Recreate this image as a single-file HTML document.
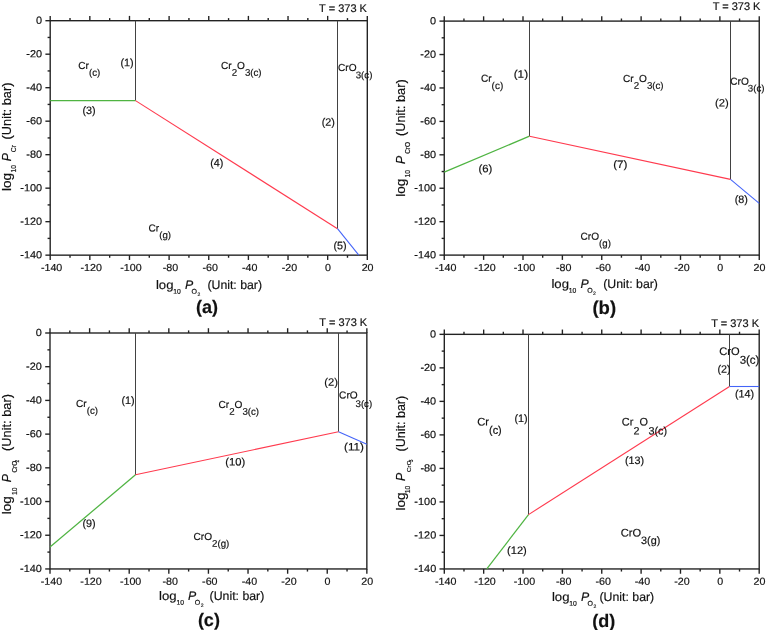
<!DOCTYPE html>
<html lang="en"><head><meta charset="utf-8"><title>Cr-O volatility diagrams, T = 373 K</title>
<style>html,body{margin:0;padding:0;background:#fff}svg{display:block}text{font-family:'Liberation Sans', sans-serif;fill:#111;stroke:#111;stroke-width:0.18px}</style>
</head><body>
<svg width="767" height="630" viewBox="0 0 767 630">
<rect width="767" height="630" fill="#fff"/>
<rect x="50.20" y="20.70" width="317.10" height="234.45" fill="none" stroke="#222" stroke-width="1.38"/>
<line x1="50.20" y1="20.70" x2="50.20" y2="15.90" stroke="#222" stroke-width="1.38"/>
<line x1="50.20" y1="255.15" x2="50.20" y2="259.95" stroke="#222" stroke-width="1.38"/>
<line x1="70.02" y1="20.70" x2="70.02" y2="18.10" stroke="#222" stroke-width="1.38"/>
<line x1="70.02" y1="255.15" x2="70.02" y2="257.75" stroke="#222" stroke-width="1.38"/>
<line x1="89.84" y1="20.70" x2="89.84" y2="15.90" stroke="#222" stroke-width="1.38"/>
<line x1="89.84" y1="255.15" x2="89.84" y2="259.95" stroke="#222" stroke-width="1.38"/>
<line x1="109.66" y1="20.70" x2="109.66" y2="18.10" stroke="#222" stroke-width="1.38"/>
<line x1="109.66" y1="255.15" x2="109.66" y2="257.75" stroke="#222" stroke-width="1.38"/>
<line x1="129.48" y1="20.70" x2="129.48" y2="15.90" stroke="#222" stroke-width="1.38"/>
<line x1="129.48" y1="255.15" x2="129.48" y2="259.95" stroke="#222" stroke-width="1.38"/>
<line x1="149.29" y1="20.70" x2="149.29" y2="18.10" stroke="#222" stroke-width="1.38"/>
<line x1="149.29" y1="255.15" x2="149.29" y2="257.75" stroke="#222" stroke-width="1.38"/>
<line x1="169.11" y1="20.70" x2="169.11" y2="15.90" stroke="#222" stroke-width="1.38"/>
<line x1="169.11" y1="255.15" x2="169.11" y2="259.95" stroke="#222" stroke-width="1.38"/>
<line x1="188.93" y1="20.70" x2="188.93" y2="18.10" stroke="#222" stroke-width="1.38"/>
<line x1="188.93" y1="255.15" x2="188.93" y2="257.75" stroke="#222" stroke-width="1.38"/>
<line x1="208.75" y1="20.70" x2="208.75" y2="15.90" stroke="#222" stroke-width="1.38"/>
<line x1="208.75" y1="255.15" x2="208.75" y2="259.95" stroke="#222" stroke-width="1.38"/>
<line x1="228.57" y1="20.70" x2="228.57" y2="18.10" stroke="#222" stroke-width="1.38"/>
<line x1="228.57" y1="255.15" x2="228.57" y2="257.75" stroke="#222" stroke-width="1.38"/>
<line x1="248.39" y1="20.70" x2="248.39" y2="15.90" stroke="#222" stroke-width="1.38"/>
<line x1="248.39" y1="255.15" x2="248.39" y2="259.95" stroke="#222" stroke-width="1.38"/>
<line x1="268.21" y1="20.70" x2="268.21" y2="18.10" stroke="#222" stroke-width="1.38"/>
<line x1="268.21" y1="255.15" x2="268.21" y2="257.75" stroke="#222" stroke-width="1.38"/>
<line x1="288.03" y1="20.70" x2="288.03" y2="15.90" stroke="#222" stroke-width="1.38"/>
<line x1="288.03" y1="255.15" x2="288.03" y2="259.95" stroke="#222" stroke-width="1.38"/>
<line x1="307.84" y1="20.70" x2="307.84" y2="18.10" stroke="#222" stroke-width="1.38"/>
<line x1="307.84" y1="255.15" x2="307.84" y2="257.75" stroke="#222" stroke-width="1.38"/>
<line x1="327.66" y1="20.70" x2="327.66" y2="15.90" stroke="#222" stroke-width="1.38"/>
<line x1="327.66" y1="255.15" x2="327.66" y2="259.95" stroke="#222" stroke-width="1.38"/>
<line x1="347.48" y1="20.70" x2="347.48" y2="18.10" stroke="#222" stroke-width="1.38"/>
<line x1="347.48" y1="255.15" x2="347.48" y2="257.75" stroke="#222" stroke-width="1.38"/>
<line x1="367.30" y1="20.70" x2="367.30" y2="15.90" stroke="#222" stroke-width="1.38"/>
<line x1="367.30" y1="255.15" x2="367.30" y2="259.95" stroke="#222" stroke-width="1.38"/>
<line x1="50.20" y1="20.70" x2="45.40" y2="20.70" stroke="#222" stroke-width="1.38"/>
<line x1="50.20" y1="37.45" x2="47.60" y2="37.45" stroke="#222" stroke-width="1.38"/>
<line x1="50.20" y1="54.19" x2="45.40" y2="54.19" stroke="#222" stroke-width="1.38"/>
<line x1="50.20" y1="70.94" x2="47.60" y2="70.94" stroke="#222" stroke-width="1.38"/>
<line x1="50.20" y1="87.69" x2="45.40" y2="87.69" stroke="#222" stroke-width="1.38"/>
<line x1="50.20" y1="104.43" x2="47.60" y2="104.43" stroke="#222" stroke-width="1.38"/>
<line x1="50.20" y1="121.18" x2="45.40" y2="121.18" stroke="#222" stroke-width="1.38"/>
<line x1="50.20" y1="137.93" x2="47.60" y2="137.93" stroke="#222" stroke-width="1.38"/>
<line x1="50.20" y1="154.67" x2="45.40" y2="154.67" stroke="#222" stroke-width="1.38"/>
<line x1="50.20" y1="171.42" x2="47.60" y2="171.42" stroke="#222" stroke-width="1.38"/>
<line x1="50.20" y1="188.16" x2="45.40" y2="188.16" stroke="#222" stroke-width="1.38"/>
<line x1="50.20" y1="204.91" x2="47.60" y2="204.91" stroke="#222" stroke-width="1.38"/>
<line x1="50.20" y1="221.66" x2="45.40" y2="221.66" stroke="#222" stroke-width="1.38"/>
<line x1="50.20" y1="238.40" x2="47.60" y2="238.40" stroke="#222" stroke-width="1.38"/>
<line x1="50.20" y1="255.15" x2="45.40" y2="255.15" stroke="#222" stroke-width="1.38"/>
<text transform="translate(51.60,270.95) rotate(0.03) scale(1.05,1)" font-size="10.2" text-anchor="middle" >-140</text>
<text transform="translate(91.24,270.95) rotate(0.03) scale(1.05,1)" font-size="10.2" text-anchor="middle" >-120</text>
<text transform="translate(130.88,270.95) rotate(0.03) scale(1.05,1)" font-size="10.2" text-anchor="middle" >-100</text>
<text transform="translate(170.51,270.95) rotate(0.03) scale(1.05,1)" font-size="10.2" text-anchor="middle" >-80</text>
<text transform="translate(210.15,270.95) rotate(0.03) scale(1.05,1)" font-size="10.2" text-anchor="middle" >-60</text>
<text transform="translate(249.79,270.95) rotate(0.03) scale(1.05,1)" font-size="10.2" text-anchor="middle" >-40</text>
<text transform="translate(289.43,270.95) rotate(0.03) scale(1.05,1)" font-size="10.2" text-anchor="middle" >-20</text>
<text transform="translate(327.96,270.95) rotate(0.03) scale(1.05,1)" font-size="10.2" text-anchor="middle" >0</text>
<text transform="translate(367.60,270.95) rotate(0.03) scale(1.05,1)" font-size="10.2" text-anchor="middle" >20</text>
<text transform="translate(42.10,23.80) rotate(0.03) scale(1.06,1)" font-size="10.3" text-anchor="end" >0</text>
<text transform="translate(42.10,57.29) rotate(0.03) scale(1.06,1)" font-size="10.3" text-anchor="end" >-20</text>
<text transform="translate(42.10,90.79) rotate(0.03) scale(1.06,1)" font-size="10.3" text-anchor="end" >-40</text>
<text transform="translate(42.10,124.28) rotate(0.03) scale(1.06,1)" font-size="10.3" text-anchor="end" >-60</text>
<text transform="translate(42.10,157.77) rotate(0.03) scale(1.06,1)" font-size="10.3" text-anchor="end" >-80</text>
<text transform="translate(42.10,191.26) rotate(0.03) scale(1.06,1)" font-size="10.3" text-anchor="end" >-100</text>
<text transform="translate(42.10,224.76) rotate(0.03) scale(1.06,1)" font-size="10.3" text-anchor="end" >-120</text>
<text transform="translate(42.10,258.25) rotate(0.03) scale(1.06,1)" font-size="10.3" text-anchor="end" >-140</text>
<text transform="translate(366.90,12.00) rotate(0.03)" font-size="11" text-anchor="end" >T = 373 K</text>
<g transform="translate(155.90,289.00) rotate(0.03)"><text transform="translate(0,0) scale(1.07,1)" font-size="12.3">log</text><text x="17.3" y="4.7" font-size="6.8">10</text><text x="29.0" y="0" font-size="12.3" font-style="italic">P</text><text x="35.7" y="4.7" font-size="7.0">O</text><text x="41.6" y="7.1" font-size="5.0">2</text><text x="51.5" y="0" font-size="12.3">(Unit: bar)</text></g>
<text transform="translate(206.95,312.90) rotate(0.03)" font-size="18" text-anchor="middle" font-weight="bold">(a)</text>
<g transform="translate(10.70,190.90) rotate(-90)"><text transform="translate(0,0) scale(1.1,1)" font-size="12.3">log</text><text x="18.4" y="5.1" font-size="6.8">10</text><text x="29.599999999999998" y="0" font-size="12.3" font-style="italic">P</text><text x="38.699999999999996" y="5.7" font-size="7.0">Cr</text><text transform="translate(51.5,0) scale(1.04,1)" font-size="12.3">(Unit: bar)</text></g>
<line x1="135.50" y1="20.70" x2="135.50" y2="100.60" stroke="#424242" stroke-width="1"/>
<line x1="337.50" y1="20.70" x2="337.50" y2="228.70" stroke="#424242" stroke-width="1"/>
<line x1="50.20" y1="100.60" x2="135.50" y2="100.60" stroke="#4fb442" stroke-width="1.25"/>
<line x1="135.50" y1="100.60" x2="337.50" y2="228.70" stroke="#ff3a4e" stroke-width="1.12"/>
<line x1="337.50" y1="228.70" x2="358.80" y2="255.15" stroke="#4464f8" stroke-width="1.08"/>
<text transform="translate(78.30,69.10) rotate(0.03)"><tspan font-size="10.1" dy="0.00">Cr</tspan><tspan font-size="9.7" dy="6.70">(c)</tspan></text>
<text transform="translate(120.50,66.20) rotate(0.03)" font-size="10.8" text-anchor="start" >(1)</text>
<text transform="translate(82.50,114.00) rotate(0.03)" font-size="10.8" text-anchor="start" >(3)</text>
<text transform="translate(221.00,69.00) rotate(0.03)"><tspan font-size="10.1" dy="0.00">Cr</tspan><tspan font-size="9.7" dy="6.70">2</tspan><tspan font-size="10.1" dy="-6.70">O</tspan><tspan font-size="9.7" dy="6.70">3(c)</tspan></text>
<text transform="translate(338.00,71.10) rotate(0.03)"><tspan font-size="10.1" dy="0.00">CrO</tspan><tspan font-size="9.7" dy="7.20" dx="-0.8">3(c)</tspan></text>
<text transform="translate(321.70,125.70) rotate(0.03)" font-size="10.8" text-anchor="start" >(2)</text>
<text transform="translate(210.20,166.50) rotate(0.03)" font-size="10.8" text-anchor="start" >(4)</text>
<text transform="translate(148.50,231.50) rotate(0.03)"><tspan font-size="10.1" dy="0.00">Cr</tspan><tspan font-size="9.7" dy="6.70">(g)</tspan></text>
<text transform="translate(333.50,249.30) rotate(0.03)" font-size="10.8" text-anchor="start" >(5)</text>
<rect x="444.25" y="21.10" width="315.00" height="234.00" fill="none" stroke="#222" stroke-width="1.38"/>
<line x1="444.25" y1="21.10" x2="444.25" y2="16.30" stroke="#222" stroke-width="1.38"/>
<line x1="444.25" y1="255.10" x2="444.25" y2="259.90" stroke="#222" stroke-width="1.38"/>
<line x1="463.94" y1="21.10" x2="463.94" y2="18.50" stroke="#222" stroke-width="1.38"/>
<line x1="463.94" y1="255.10" x2="463.94" y2="257.70" stroke="#222" stroke-width="1.38"/>
<line x1="483.62" y1="21.10" x2="483.62" y2="16.30" stroke="#222" stroke-width="1.38"/>
<line x1="483.62" y1="255.10" x2="483.62" y2="259.90" stroke="#222" stroke-width="1.38"/>
<line x1="503.31" y1="21.10" x2="503.31" y2="18.50" stroke="#222" stroke-width="1.38"/>
<line x1="503.31" y1="255.10" x2="503.31" y2="257.70" stroke="#222" stroke-width="1.38"/>
<line x1="523.00" y1="21.10" x2="523.00" y2="16.30" stroke="#222" stroke-width="1.38"/>
<line x1="523.00" y1="255.10" x2="523.00" y2="259.90" stroke="#222" stroke-width="1.38"/>
<line x1="542.69" y1="21.10" x2="542.69" y2="18.50" stroke="#222" stroke-width="1.38"/>
<line x1="542.69" y1="255.10" x2="542.69" y2="257.70" stroke="#222" stroke-width="1.38"/>
<line x1="562.38" y1="21.10" x2="562.38" y2="16.30" stroke="#222" stroke-width="1.38"/>
<line x1="562.38" y1="255.10" x2="562.38" y2="259.90" stroke="#222" stroke-width="1.38"/>
<line x1="582.06" y1="21.10" x2="582.06" y2="18.50" stroke="#222" stroke-width="1.38"/>
<line x1="582.06" y1="255.10" x2="582.06" y2="257.70" stroke="#222" stroke-width="1.38"/>
<line x1="601.75" y1="21.10" x2="601.75" y2="16.30" stroke="#222" stroke-width="1.38"/>
<line x1="601.75" y1="255.10" x2="601.75" y2="259.90" stroke="#222" stroke-width="1.38"/>
<line x1="621.44" y1="21.10" x2="621.44" y2="18.50" stroke="#222" stroke-width="1.38"/>
<line x1="621.44" y1="255.10" x2="621.44" y2="257.70" stroke="#222" stroke-width="1.38"/>
<line x1="641.12" y1="21.10" x2="641.12" y2="16.30" stroke="#222" stroke-width="1.38"/>
<line x1="641.12" y1="255.10" x2="641.12" y2="259.90" stroke="#222" stroke-width="1.38"/>
<line x1="660.81" y1="21.10" x2="660.81" y2="18.50" stroke="#222" stroke-width="1.38"/>
<line x1="660.81" y1="255.10" x2="660.81" y2="257.70" stroke="#222" stroke-width="1.38"/>
<line x1="680.50" y1="21.10" x2="680.50" y2="16.30" stroke="#222" stroke-width="1.38"/>
<line x1="680.50" y1="255.10" x2="680.50" y2="259.90" stroke="#222" stroke-width="1.38"/>
<line x1="700.19" y1="21.10" x2="700.19" y2="18.50" stroke="#222" stroke-width="1.38"/>
<line x1="700.19" y1="255.10" x2="700.19" y2="257.70" stroke="#222" stroke-width="1.38"/>
<line x1="719.88" y1="21.10" x2="719.88" y2="16.30" stroke="#222" stroke-width="1.38"/>
<line x1="719.88" y1="255.10" x2="719.88" y2="259.90" stroke="#222" stroke-width="1.38"/>
<line x1="739.56" y1="21.10" x2="739.56" y2="18.50" stroke="#222" stroke-width="1.38"/>
<line x1="739.56" y1="255.10" x2="739.56" y2="257.70" stroke="#222" stroke-width="1.38"/>
<line x1="759.25" y1="21.10" x2="759.25" y2="16.30" stroke="#222" stroke-width="1.38"/>
<line x1="759.25" y1="255.10" x2="759.25" y2="259.90" stroke="#222" stroke-width="1.38"/>
<line x1="444.25" y1="21.10" x2="439.45" y2="21.10" stroke="#222" stroke-width="1.38"/>
<line x1="444.25" y1="37.81" x2="441.65" y2="37.81" stroke="#222" stroke-width="1.38"/>
<line x1="444.25" y1="54.53" x2="439.45" y2="54.53" stroke="#222" stroke-width="1.38"/>
<line x1="444.25" y1="71.24" x2="441.65" y2="71.24" stroke="#222" stroke-width="1.38"/>
<line x1="444.25" y1="87.96" x2="439.45" y2="87.96" stroke="#222" stroke-width="1.38"/>
<line x1="444.25" y1="104.67" x2="441.65" y2="104.67" stroke="#222" stroke-width="1.38"/>
<line x1="444.25" y1="121.39" x2="439.45" y2="121.39" stroke="#222" stroke-width="1.38"/>
<line x1="444.25" y1="138.10" x2="441.65" y2="138.10" stroke="#222" stroke-width="1.38"/>
<line x1="444.25" y1="154.81" x2="439.45" y2="154.81" stroke="#222" stroke-width="1.38"/>
<line x1="444.25" y1="171.53" x2="441.65" y2="171.53" stroke="#222" stroke-width="1.38"/>
<line x1="444.25" y1="188.24" x2="439.45" y2="188.24" stroke="#222" stroke-width="1.38"/>
<line x1="444.25" y1="204.96" x2="441.65" y2="204.96" stroke="#222" stroke-width="1.38"/>
<line x1="444.25" y1="221.67" x2="439.45" y2="221.67" stroke="#222" stroke-width="1.38"/>
<line x1="444.25" y1="238.39" x2="441.65" y2="238.39" stroke="#222" stroke-width="1.38"/>
<line x1="444.25" y1="255.10" x2="439.45" y2="255.10" stroke="#222" stroke-width="1.38"/>
<text transform="translate(445.65,270.90) rotate(0.03) scale(1.05,1)" font-size="10.2" text-anchor="middle" >-140</text>
<text transform="translate(485.02,270.90) rotate(0.03) scale(1.05,1)" font-size="10.2" text-anchor="middle" >-120</text>
<text transform="translate(524.40,270.90) rotate(0.03) scale(1.05,1)" font-size="10.2" text-anchor="middle" >-100</text>
<text transform="translate(563.77,270.90) rotate(0.03) scale(1.05,1)" font-size="10.2" text-anchor="middle" >-80</text>
<text transform="translate(603.15,270.90) rotate(0.03) scale(1.05,1)" font-size="10.2" text-anchor="middle" >-60</text>
<text transform="translate(642.52,270.90) rotate(0.03) scale(1.05,1)" font-size="10.2" text-anchor="middle" >-40</text>
<text transform="translate(681.90,270.90) rotate(0.03) scale(1.05,1)" font-size="10.2" text-anchor="middle" >-20</text>
<text transform="translate(720.17,270.90) rotate(0.03) scale(1.05,1)" font-size="10.2" text-anchor="middle" >0</text>
<text transform="translate(759.55,270.90) rotate(0.03) scale(1.05,1)" font-size="10.2" text-anchor="middle" >20</text>
<text transform="translate(436.15,24.20) rotate(0.03) scale(1.06,1)" font-size="10.3" text-anchor="end" >0</text>
<text transform="translate(436.15,57.63) rotate(0.03) scale(1.06,1)" font-size="10.3" text-anchor="end" >-20</text>
<text transform="translate(436.15,91.06) rotate(0.03) scale(1.06,1)" font-size="10.3" text-anchor="end" >-40</text>
<text transform="translate(436.15,124.49) rotate(0.03) scale(1.06,1)" font-size="10.3" text-anchor="end" >-60</text>
<text transform="translate(436.15,157.91) rotate(0.03) scale(1.06,1)" font-size="10.3" text-anchor="end" >-80</text>
<text transform="translate(436.15,191.34) rotate(0.03) scale(1.06,1)" font-size="10.3" text-anchor="end" >-100</text>
<text transform="translate(436.15,224.77) rotate(0.03) scale(1.06,1)" font-size="10.3" text-anchor="end" >-120</text>
<text transform="translate(436.15,258.20) rotate(0.03) scale(1.06,1)" font-size="10.3" text-anchor="end" >-140</text>
<text transform="translate(760.45,10.00) rotate(0.03)" font-size="11" text-anchor="end" >T = 373 K</text>
<g transform="translate(551.45,288.00) rotate(0.03)"><text transform="translate(0,0) scale(1.07,1)" font-size="12.3">log</text><text x="17.3" y="4.7" font-size="6.8">10</text><text x="29.0" y="0" font-size="12.3" font-style="italic">P</text><text x="35.7" y="4.7" font-size="7.0">O</text><text x="41.6" y="7.1" font-size="5.0">2</text><text x="51.8" y="0" font-size="12.3">(Unit: bar)</text></g>
<text transform="translate(604.25,314.00) rotate(0.03)" font-size="18.5" text-anchor="middle" font-weight="bold">(b)</text>
<g transform="translate(404.60,196.70) rotate(-90)"><text transform="translate(0,0) scale(1.1,1)" font-size="12.3">log</text><text x="19.2" y="5.1" font-size="6.8">10</text><text x="32.7" y="0" font-size="12.3" font-style="italic">P</text><text x="42.9" y="5.7" font-size="6.4">CrO</text><text transform="translate(60.599999999999994,0) scale(1.04,1)" font-size="12.3">(Unit: bar)</text></g>
<line x1="529.50" y1="21.10" x2="529.50" y2="136.20" stroke="#424242" stroke-width="1"/>
<line x1="730.50" y1="21.10" x2="730.50" y2="179.40" stroke="#424242" stroke-width="1"/>
<line x1="444.25" y1="172.20" x2="529.50" y2="136.20" stroke="#4fb442" stroke-width="1.25"/>
<line x1="529.50" y1="136.20" x2="730.50" y2="179.40" stroke="#ff3a4e" stroke-width="1.12"/>
<line x1="730.50" y1="179.40" x2="759.25" y2="203.40" stroke="#4464f8" stroke-width="1.08"/>
<text transform="translate(480.90,81.70) rotate(0.03)"><tspan font-size="10.1" dy="0.00">Cr</tspan><tspan font-size="10.0" dy="7.20">(c)</tspan></text>
<text transform="translate(513.70,77.70) rotate(0.03) scale(1.08,1)" font-size="10.9" text-anchor="start" >(1)</text>
<text transform="translate(623.00,82.00) rotate(0.03)"><tspan font-size="10.1" dy="0.00">Cr</tspan><tspan font-size="9.7" dy="6.70">2</tspan><tspan font-size="10.1" dy="-6.70">O</tspan><tspan font-size="9.7" dy="6.70">3(c)</tspan></text>
<text transform="translate(730.30,84.70) rotate(0.03)"><tspan font-size="10.1" dy="0.00">CrO</tspan><tspan font-size="9.7" dy="6.70" dx="-1.0">3(c)</tspan></text>
<text transform="translate(715.10,106.60) rotate(0.03) scale(1.04,1)" font-size="10.8" text-anchor="start" >(2)</text>
<text transform="translate(478.50,172.30) rotate(0.03) scale(1.05,1)" font-size="10.8" text-anchor="start" >(6)</text>
<text transform="translate(613.20,168.00) rotate(0.03) scale(1.08,1)" font-size="10.8" text-anchor="start" >(7)</text>
<text transform="translate(734.70,203.00) rotate(0.03)" font-size="10.8" text-anchor="start" >(8)</text>
<text transform="translate(580.50,239.70) rotate(0.03)"><tspan font-size="10.1" dy="0.00">CrO</tspan><tspan font-size="9.7" dy="6.70">(g)</tspan></text>
<rect x="50.00" y="333.00" width="316.85" height="235.95" fill="none" stroke="#222" stroke-width="1.38"/>
<line x1="50.00" y1="333.00" x2="50.00" y2="328.20" stroke="#222" stroke-width="1.38"/>
<line x1="50.00" y1="568.95" x2="50.00" y2="573.75" stroke="#222" stroke-width="1.38"/>
<line x1="69.80" y1="333.00" x2="69.80" y2="330.40" stroke="#222" stroke-width="1.38"/>
<line x1="69.80" y1="568.95" x2="69.80" y2="571.55" stroke="#222" stroke-width="1.38"/>
<line x1="89.61" y1="333.00" x2="89.61" y2="328.20" stroke="#222" stroke-width="1.38"/>
<line x1="89.61" y1="568.95" x2="89.61" y2="573.75" stroke="#222" stroke-width="1.38"/>
<line x1="109.41" y1="333.00" x2="109.41" y2="330.40" stroke="#222" stroke-width="1.38"/>
<line x1="109.41" y1="568.95" x2="109.41" y2="571.55" stroke="#222" stroke-width="1.38"/>
<line x1="129.21" y1="333.00" x2="129.21" y2="328.20" stroke="#222" stroke-width="1.38"/>
<line x1="129.21" y1="568.95" x2="129.21" y2="573.75" stroke="#222" stroke-width="1.38"/>
<line x1="149.02" y1="333.00" x2="149.02" y2="330.40" stroke="#222" stroke-width="1.38"/>
<line x1="149.02" y1="568.95" x2="149.02" y2="571.55" stroke="#222" stroke-width="1.38"/>
<line x1="168.82" y1="333.00" x2="168.82" y2="328.20" stroke="#222" stroke-width="1.38"/>
<line x1="168.82" y1="568.95" x2="168.82" y2="573.75" stroke="#222" stroke-width="1.38"/>
<line x1="188.62" y1="333.00" x2="188.62" y2="330.40" stroke="#222" stroke-width="1.38"/>
<line x1="188.62" y1="568.95" x2="188.62" y2="571.55" stroke="#222" stroke-width="1.38"/>
<line x1="208.43" y1="333.00" x2="208.43" y2="328.20" stroke="#222" stroke-width="1.38"/>
<line x1="208.43" y1="568.95" x2="208.43" y2="573.75" stroke="#222" stroke-width="1.38"/>
<line x1="228.23" y1="333.00" x2="228.23" y2="330.40" stroke="#222" stroke-width="1.38"/>
<line x1="228.23" y1="568.95" x2="228.23" y2="571.55" stroke="#222" stroke-width="1.38"/>
<line x1="248.03" y1="333.00" x2="248.03" y2="328.20" stroke="#222" stroke-width="1.38"/>
<line x1="248.03" y1="568.95" x2="248.03" y2="573.75" stroke="#222" stroke-width="1.38"/>
<line x1="267.83" y1="333.00" x2="267.83" y2="330.40" stroke="#222" stroke-width="1.38"/>
<line x1="267.83" y1="568.95" x2="267.83" y2="571.55" stroke="#222" stroke-width="1.38"/>
<line x1="287.64" y1="333.00" x2="287.64" y2="328.20" stroke="#222" stroke-width="1.38"/>
<line x1="287.64" y1="568.95" x2="287.64" y2="573.75" stroke="#222" stroke-width="1.38"/>
<line x1="307.44" y1="333.00" x2="307.44" y2="330.40" stroke="#222" stroke-width="1.38"/>
<line x1="307.44" y1="568.95" x2="307.44" y2="571.55" stroke="#222" stroke-width="1.38"/>
<line x1="327.24" y1="333.00" x2="327.24" y2="328.20" stroke="#222" stroke-width="1.38"/>
<line x1="327.24" y1="568.95" x2="327.24" y2="573.75" stroke="#222" stroke-width="1.38"/>
<line x1="347.05" y1="333.00" x2="347.05" y2="330.40" stroke="#222" stroke-width="1.38"/>
<line x1="347.05" y1="568.95" x2="347.05" y2="571.55" stroke="#222" stroke-width="1.38"/>
<line x1="366.85" y1="333.00" x2="366.85" y2="328.20" stroke="#222" stroke-width="1.38"/>
<line x1="366.85" y1="568.95" x2="366.85" y2="573.75" stroke="#222" stroke-width="1.38"/>
<line x1="50.00" y1="333.00" x2="45.20" y2="333.00" stroke="#222" stroke-width="1.38"/>
<line x1="50.00" y1="349.85" x2="47.40" y2="349.85" stroke="#222" stroke-width="1.38"/>
<line x1="50.00" y1="366.71" x2="45.20" y2="366.71" stroke="#222" stroke-width="1.38"/>
<line x1="50.00" y1="383.56" x2="47.40" y2="383.56" stroke="#222" stroke-width="1.38"/>
<line x1="50.00" y1="400.41" x2="45.20" y2="400.41" stroke="#222" stroke-width="1.38"/>
<line x1="50.00" y1="417.27" x2="47.40" y2="417.27" stroke="#222" stroke-width="1.38"/>
<line x1="50.00" y1="434.12" x2="45.20" y2="434.12" stroke="#222" stroke-width="1.38"/>
<line x1="50.00" y1="450.98" x2="47.40" y2="450.98" stroke="#222" stroke-width="1.38"/>
<line x1="50.00" y1="467.83" x2="45.20" y2="467.83" stroke="#222" stroke-width="1.38"/>
<line x1="50.00" y1="484.68" x2="47.40" y2="484.68" stroke="#222" stroke-width="1.38"/>
<line x1="50.00" y1="501.54" x2="45.20" y2="501.54" stroke="#222" stroke-width="1.38"/>
<line x1="50.00" y1="518.39" x2="47.40" y2="518.39" stroke="#222" stroke-width="1.38"/>
<line x1="50.00" y1="535.24" x2="45.20" y2="535.24" stroke="#222" stroke-width="1.38"/>
<line x1="50.00" y1="552.10" x2="47.40" y2="552.10" stroke="#222" stroke-width="1.38"/>
<line x1="50.00" y1="568.95" x2="45.20" y2="568.95" stroke="#222" stroke-width="1.38"/>
<text transform="translate(51.40,584.75) rotate(0.03) scale(1.05,1)" font-size="10.2" text-anchor="middle" >-140</text>
<text transform="translate(91.01,584.75) rotate(0.03) scale(1.05,1)" font-size="10.2" text-anchor="middle" >-120</text>
<text transform="translate(130.61,584.75) rotate(0.03) scale(1.05,1)" font-size="10.2" text-anchor="middle" >-100</text>
<text transform="translate(170.22,584.75) rotate(0.03) scale(1.05,1)" font-size="10.2" text-anchor="middle" >-80</text>
<text transform="translate(209.83,584.75) rotate(0.03) scale(1.05,1)" font-size="10.2" text-anchor="middle" >-60</text>
<text transform="translate(249.43,584.75) rotate(0.03) scale(1.05,1)" font-size="10.2" text-anchor="middle" >-40</text>
<text transform="translate(289.04,584.75) rotate(0.03) scale(1.05,1)" font-size="10.2" text-anchor="middle" >-20</text>
<text transform="translate(327.54,584.75) rotate(0.03) scale(1.05,1)" font-size="10.2" text-anchor="middle" >0</text>
<text transform="translate(367.15,584.75) rotate(0.03) scale(1.05,1)" font-size="10.2" text-anchor="middle" >20</text>
<text transform="translate(41.90,336.10) rotate(0.03) scale(1.06,1)" font-size="10.3" text-anchor="end" >0</text>
<text transform="translate(41.90,369.81) rotate(0.03) scale(1.06,1)" font-size="10.3" text-anchor="end" >-20</text>
<text transform="translate(41.90,403.51) rotate(0.03) scale(1.06,1)" font-size="10.3" text-anchor="end" >-40</text>
<text transform="translate(41.90,437.22) rotate(0.03) scale(1.06,1)" font-size="10.3" text-anchor="end" >-60</text>
<text transform="translate(41.90,470.93) rotate(0.03) scale(1.06,1)" font-size="10.3" text-anchor="end" >-80</text>
<text transform="translate(41.90,504.64) rotate(0.03) scale(1.06,1)" font-size="10.3" text-anchor="end" >-100</text>
<text transform="translate(41.90,538.34) rotate(0.03) scale(1.06,1)" font-size="10.3" text-anchor="end" >-120</text>
<text transform="translate(41.90,572.05) rotate(0.03) scale(1.06,1)" font-size="10.3" text-anchor="end" >-140</text>
<text transform="translate(367.15,326.00) rotate(0.03)" font-size="11" text-anchor="end" >T = 373 K</text>
<g transform="translate(159.10,600.00) rotate(0.03)"><text transform="translate(0,0) scale(1.07,1)" font-size="12.3">log</text><text x="17.3" y="4.7" font-size="6.8">10</text><text x="29.0" y="0" font-size="12.3" font-style="italic">P</text><text x="35.7" y="4.7" font-size="7.0">O</text><text x="41.6" y="7.1" font-size="5.0">2</text><text x="50.5" y="0" font-size="12.3">(Unit: bar)</text></g>
<text transform="translate(208.88,626.00) rotate(0.03)" font-size="18" text-anchor="middle" font-weight="bold">(c)</text>
<g transform="translate(11.40,514.20) rotate(-90)"><text transform="translate(0,0) scale(1.1,1)" font-size="12.3">log</text><text x="19.1" y="5.1" font-size="6.8">10</text><text x="31.999999999999996" y="0" font-size="12.3" font-style="italic">P</text><text x="41.599999999999994" y="5.7" font-size="6.4">CrO</text><text x="51.6" y="7.8" font-size="4.8">2</text><text transform="translate(63.3,0) scale(1.04,1)" font-size="12.3">(Unit: bar)</text></g>
<line x1="135.50" y1="333.00" x2="135.50" y2="474.80" stroke="#424242" stroke-width="1"/>
<line x1="338.50" y1="333.00" x2="338.50" y2="431.70" stroke="#424242" stroke-width="1"/>
<line x1="50.00" y1="547.10" x2="135.50" y2="474.80" stroke="#4fb442" stroke-width="1.25"/>
<line x1="135.50" y1="474.80" x2="338.50" y2="431.70" stroke="#ff3a4e" stroke-width="1.12"/>
<line x1="338.50" y1="431.70" x2="366.85" y2="444.20" stroke="#4464f8" stroke-width="1.08"/>
<text transform="translate(76.00,407.00) rotate(0.03)"><tspan font-size="10.1" dy="0.00">Cr</tspan><tspan font-size="9.7" dy="6.70">(c)</tspan></text>
<text transform="translate(121.50,404.00) rotate(0.03)" font-size="10.8" text-anchor="start" >(1)</text>
<text transform="translate(218.50,408.00) rotate(0.03)"><tspan font-size="10.1" dy="0.00">Cr</tspan><tspan font-size="9.7" dy="6.70">2</tspan><tspan font-size="10.1" dy="-6.70">O</tspan><tspan font-size="9.7" dy="6.70">3(c)</tspan></text>
<text transform="translate(324.20,385.80) rotate(0.03) scale(1.04,1)" font-size="10.8" text-anchor="start" >(2)</text>
<text transform="translate(339.10,398.60) rotate(0.03)"><tspan font-size="10.1" dy="0.00">CrO</tspan><tspan font-size="9.7" dy="8.40" dx="-2.1">3(c)</tspan></text>
<text transform="translate(344.00,450.60) rotate(0.03) scale(1.08,1)" font-size="10.8" text-anchor="start" >(11)</text>
<text transform="translate(225.20,465.40) rotate(0.03) scale(1.04,1)" font-size="10.8" text-anchor="start" >(10)</text>
<text transform="translate(82.50,527.00) rotate(0.03)" font-size="10.8" text-anchor="start" >(9)</text>
<text transform="translate(193.50,540.00) rotate(0.03)"><tspan font-size="10.1" dy="0.00">CrO</tspan><tspan font-size="9.7" dy="6.70">2(g)</tspan></text>
<rect x="444.30" y="334.35" width="314.90" height="234.60" fill="none" stroke="#222" stroke-width="1.38"/>
<line x1="444.30" y1="334.35" x2="444.30" y2="329.55" stroke="#222" stroke-width="1.38"/>
<line x1="444.30" y1="568.95" x2="444.30" y2="573.75" stroke="#222" stroke-width="1.38"/>
<line x1="463.98" y1="334.35" x2="463.98" y2="331.75" stroke="#222" stroke-width="1.38"/>
<line x1="463.98" y1="568.95" x2="463.98" y2="571.55" stroke="#222" stroke-width="1.38"/>
<line x1="483.66" y1="334.35" x2="483.66" y2="329.55" stroke="#222" stroke-width="1.38"/>
<line x1="483.66" y1="568.95" x2="483.66" y2="573.75" stroke="#222" stroke-width="1.38"/>
<line x1="503.34" y1="334.35" x2="503.34" y2="331.75" stroke="#222" stroke-width="1.38"/>
<line x1="503.34" y1="568.95" x2="503.34" y2="571.55" stroke="#222" stroke-width="1.38"/>
<line x1="523.02" y1="334.35" x2="523.02" y2="329.55" stroke="#222" stroke-width="1.38"/>
<line x1="523.02" y1="568.95" x2="523.02" y2="573.75" stroke="#222" stroke-width="1.38"/>
<line x1="542.71" y1="334.35" x2="542.71" y2="331.75" stroke="#222" stroke-width="1.38"/>
<line x1="542.71" y1="568.95" x2="542.71" y2="571.55" stroke="#222" stroke-width="1.38"/>
<line x1="562.39" y1="334.35" x2="562.39" y2="329.55" stroke="#222" stroke-width="1.38"/>
<line x1="562.39" y1="568.95" x2="562.39" y2="573.75" stroke="#222" stroke-width="1.38"/>
<line x1="582.07" y1="334.35" x2="582.07" y2="331.75" stroke="#222" stroke-width="1.38"/>
<line x1="582.07" y1="568.95" x2="582.07" y2="571.55" stroke="#222" stroke-width="1.38"/>
<line x1="601.75" y1="334.35" x2="601.75" y2="329.55" stroke="#222" stroke-width="1.38"/>
<line x1="601.75" y1="568.95" x2="601.75" y2="573.75" stroke="#222" stroke-width="1.38"/>
<line x1="621.43" y1="334.35" x2="621.43" y2="331.75" stroke="#222" stroke-width="1.38"/>
<line x1="621.43" y1="568.95" x2="621.43" y2="571.55" stroke="#222" stroke-width="1.38"/>
<line x1="641.11" y1="334.35" x2="641.11" y2="329.55" stroke="#222" stroke-width="1.38"/>
<line x1="641.11" y1="568.95" x2="641.11" y2="573.75" stroke="#222" stroke-width="1.38"/>
<line x1="660.79" y1="334.35" x2="660.79" y2="331.75" stroke="#222" stroke-width="1.38"/>
<line x1="660.79" y1="568.95" x2="660.79" y2="571.55" stroke="#222" stroke-width="1.38"/>
<line x1="680.48" y1="334.35" x2="680.48" y2="329.55" stroke="#222" stroke-width="1.38"/>
<line x1="680.48" y1="568.95" x2="680.48" y2="573.75" stroke="#222" stroke-width="1.38"/>
<line x1="700.16" y1="334.35" x2="700.16" y2="331.75" stroke="#222" stroke-width="1.38"/>
<line x1="700.16" y1="568.95" x2="700.16" y2="571.55" stroke="#222" stroke-width="1.38"/>
<line x1="719.84" y1="334.35" x2="719.84" y2="329.55" stroke="#222" stroke-width="1.38"/>
<line x1="719.84" y1="568.95" x2="719.84" y2="573.75" stroke="#222" stroke-width="1.38"/>
<line x1="739.52" y1="334.35" x2="739.52" y2="331.75" stroke="#222" stroke-width="1.38"/>
<line x1="739.52" y1="568.95" x2="739.52" y2="571.55" stroke="#222" stroke-width="1.38"/>
<line x1="759.20" y1="334.35" x2="759.20" y2="329.55" stroke="#222" stroke-width="1.38"/>
<line x1="759.20" y1="568.95" x2="759.20" y2="573.75" stroke="#222" stroke-width="1.38"/>
<line x1="444.30" y1="334.35" x2="439.50" y2="334.35" stroke="#222" stroke-width="1.38"/>
<line x1="444.30" y1="351.11" x2="441.70" y2="351.11" stroke="#222" stroke-width="1.38"/>
<line x1="444.30" y1="367.86" x2="439.50" y2="367.86" stroke="#222" stroke-width="1.38"/>
<line x1="444.30" y1="384.62" x2="441.70" y2="384.62" stroke="#222" stroke-width="1.38"/>
<line x1="444.30" y1="401.38" x2="439.50" y2="401.38" stroke="#222" stroke-width="1.38"/>
<line x1="444.30" y1="418.14" x2="441.70" y2="418.14" stroke="#222" stroke-width="1.38"/>
<line x1="444.30" y1="434.89" x2="439.50" y2="434.89" stroke="#222" stroke-width="1.38"/>
<line x1="444.30" y1="451.65" x2="441.70" y2="451.65" stroke="#222" stroke-width="1.38"/>
<line x1="444.30" y1="468.41" x2="439.50" y2="468.41" stroke="#222" stroke-width="1.38"/>
<line x1="444.30" y1="485.16" x2="441.70" y2="485.16" stroke="#222" stroke-width="1.38"/>
<line x1="444.30" y1="501.92" x2="439.50" y2="501.92" stroke="#222" stroke-width="1.38"/>
<line x1="444.30" y1="518.68" x2="441.70" y2="518.68" stroke="#222" stroke-width="1.38"/>
<line x1="444.30" y1="535.44" x2="439.50" y2="535.44" stroke="#222" stroke-width="1.38"/>
<line x1="444.30" y1="552.19" x2="441.70" y2="552.19" stroke="#222" stroke-width="1.38"/>
<line x1="444.30" y1="568.95" x2="439.50" y2="568.95" stroke="#222" stroke-width="1.38"/>
<text transform="translate(445.70,584.75) rotate(0.03) scale(1.05,1)" font-size="10.2" text-anchor="middle" >-140</text>
<text transform="translate(485.06,584.75) rotate(0.03) scale(1.05,1)" font-size="10.2" text-anchor="middle" >-120</text>
<text transform="translate(524.42,584.75) rotate(0.03) scale(1.05,1)" font-size="10.2" text-anchor="middle" >-100</text>
<text transform="translate(563.79,584.75) rotate(0.03) scale(1.05,1)" font-size="10.2" text-anchor="middle" >-80</text>
<text transform="translate(603.15,584.75) rotate(0.03) scale(1.05,1)" font-size="10.2" text-anchor="middle" >-60</text>
<text transform="translate(642.51,584.75) rotate(0.03) scale(1.05,1)" font-size="10.2" text-anchor="middle" >-40</text>
<text transform="translate(681.88,584.75) rotate(0.03) scale(1.05,1)" font-size="10.2" text-anchor="middle" >-20</text>
<text transform="translate(720.14,584.75) rotate(0.03) scale(1.05,1)" font-size="10.2" text-anchor="middle" >0</text>
<text transform="translate(759.50,584.75) rotate(0.03) scale(1.05,1)" font-size="10.2" text-anchor="middle" >20</text>
<text transform="translate(436.20,337.45) rotate(0.03) scale(1.06,1)" font-size="10.3" text-anchor="end" >0</text>
<text transform="translate(436.20,370.96) rotate(0.03) scale(1.06,1)" font-size="10.3" text-anchor="end" >-20</text>
<text transform="translate(436.20,404.48) rotate(0.03) scale(1.06,1)" font-size="10.3" text-anchor="end" >-40</text>
<text transform="translate(436.20,437.99) rotate(0.03) scale(1.06,1)" font-size="10.3" text-anchor="end" >-60</text>
<text transform="translate(436.20,471.51) rotate(0.03) scale(1.06,1)" font-size="10.3" text-anchor="end" >-80</text>
<text transform="translate(436.20,505.02) rotate(0.03) scale(1.06,1)" font-size="10.3" text-anchor="end" >-100</text>
<text transform="translate(436.20,538.54) rotate(0.03) scale(1.06,1)" font-size="10.3" text-anchor="end" >-120</text>
<text transform="translate(436.20,572.05) rotate(0.03) scale(1.06,1)" font-size="10.3" text-anchor="end" >-140</text>
<text transform="translate(759.00,327.00) rotate(0.03)" font-size="11" text-anchor="end" >T = 373 K</text>
<g transform="translate(551.90,601.00) rotate(0.03)"><text transform="translate(0,0) scale(1.07,1)" font-size="12.3">log</text><text x="17.3" y="4.7" font-size="6.8">10</text><text x="29.0" y="0" font-size="12.3" font-style="italic">P</text><text x="35.7" y="4.7" font-size="7.0">O</text><text x="41.6" y="7.1" font-size="5.0">2</text><text x="47.6" y="0" font-size="12.3">(Unit: bar)</text></g>
<text transform="translate(603.70,627.00) rotate(0.03)" font-size="18" text-anchor="middle" font-weight="bold">(d)</text>
<g transform="translate(405.00,510.40) rotate(-90)"><text transform="translate(0,0) scale(1.1,1)" font-size="12.3">log</text><text x="17.2" y="5.1" font-size="6.8">10</text><text x="29.5" y="0" font-size="12.3" font-style="italic">P</text><text x="38.5" y="5.7" font-size="6.2">CrO</text><text x="48.2" y="7.8" font-size="4.8">3</text><text transform="translate(58.9,0) scale(1.02,1)" font-size="12.3">(Unit: bar)</text></g>
<line x1="528.50" y1="334.35" x2="528.50" y2="514.60" stroke="#424242" stroke-width="1"/>
<line x1="729.50" y1="334.35" x2="729.50" y2="386.50" stroke="#424242" stroke-width="1"/>
<line x1="486.80" y1="568.95" x2="528.50" y2="514.60" stroke="#4fb442" stroke-width="1.25"/>
<line x1="528.50" y1="514.60" x2="729.50" y2="386.50" stroke="#ff3a4e" stroke-width="1.12"/>
<line x1="729.50" y1="386.50" x2="759.20" y2="386.50" stroke="#4464f8" stroke-width="1.08"/>
<text transform="translate(477.30,425.50) rotate(0.03)"><tspan font-size="11.1" dy="0.00">Cr</tspan><tspan font-size="10.9" dy="8.20">(c)</tspan></text>
<text transform="translate(514.50,422.00) rotate(0.03)" font-size="10.8" text-anchor="start" >(1)</text>
<text transform="translate(621.80,425.50) rotate(0.03)"><tspan font-size="10.9" dy="0.00">Cr</tspan><tspan font-size="10.8" dy="8.90" dx="0.3">2</tspan><tspan font-size="10.9" dy="-8.90">O</tspan><tspan font-size="10.8" dy="8.90" dx="0.4">3(c)</tspan></text>
<text transform="translate(719.30,354.90) rotate(0.03)"><tspan font-size="11.1" dy="0.00">CrO</tspan><tspan font-size="11.5" dy="8.90">3(c)</tspan></text>
<text transform="translate(717.40,372.80) rotate(0.03)" font-size="10.8" text-anchor="start" >(2)</text>
<text transform="translate(735.00,397.50) rotate(0.03)" font-size="10.8" text-anchor="start" >(14)</text>
<text transform="translate(625.00,463.90) rotate(0.03)" font-size="10.8" text-anchor="start" >(13)</text>
<text transform="translate(507.00,554.10) rotate(0.03) scale(1.03,1)" font-size="10.8" text-anchor="start" >(12)</text>
<text transform="translate(620.70,536.40) rotate(0.03)"><tspan font-size="11.1" dy="0.00">CrO</tspan><tspan font-size="10.8" dy="7.50">3(g)</tspan></text>
</svg>
</body></html>
